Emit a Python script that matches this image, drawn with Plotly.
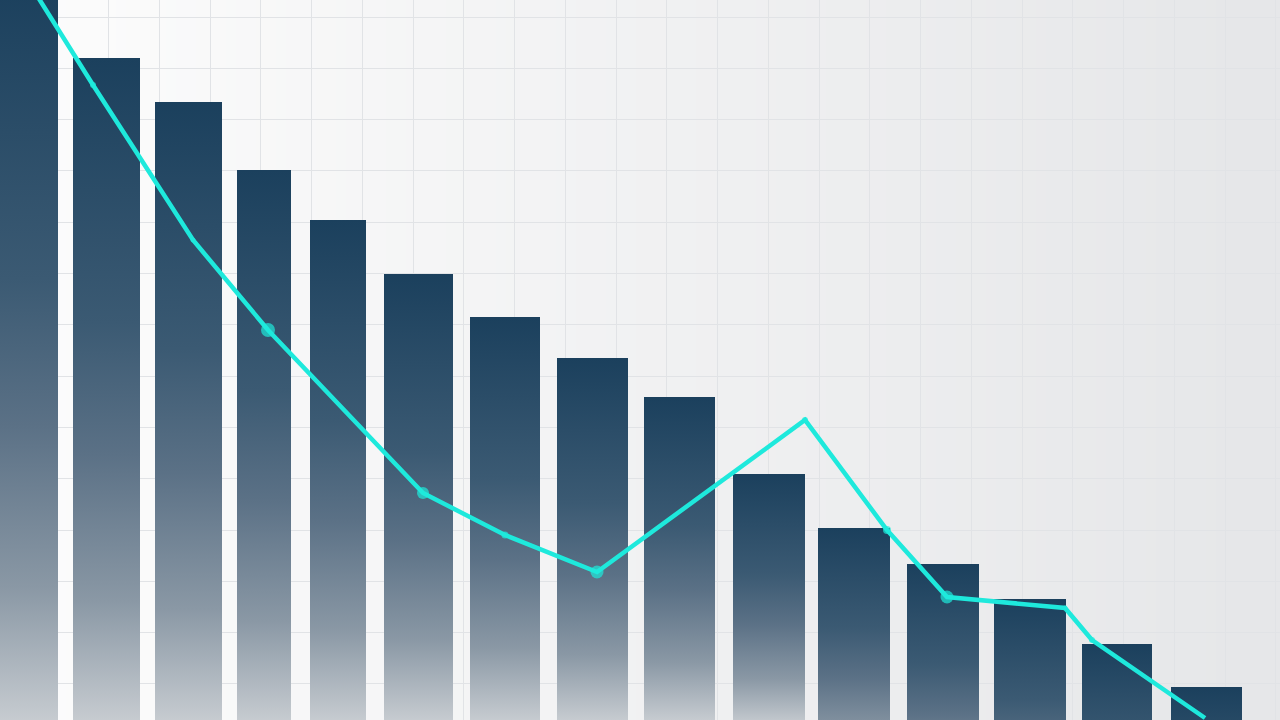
import zlib, struct, base64
import plotly.graph_objects as go

# ---- data ----
bar_centers = [24, 106.5, 188.5, 264, 338, 418.5, 505, 592.5, 679.5, 769, 854, 943, 1030, 1117, 1206.5]
bar_widths = [68, 67, 67, 54, 56, 69, 70, 71, 71, 72, 72, 72, 72, 70, 71]
bar_values = [735, 662, 618, 550, 500, 446, 403, 362, 323, 246, 192, 156, 121, 76, 33]

line_x = [36, 93, 193, 268, 423, 505, 597, 805, 887, 947, 1065, 1092, 1205]
line_y = [726, 635, 480, 390, 227, 185, 148, 300, 190, 123, 112, 80, 2]
marker_sizes = [0, 6, 5, 14, 12, 7, 13, 6, 8, 13, 5, 6, 0]


def png_gradient(w, h, c0, c1):
    rows = b""
    for _ in range(h):
        row = b"\x00"
        for i in range(w):
            t = i / (w - 1)
            row += bytes(int(c0[k] + (c1[k] - c0[k]) * t) for k in range(3))
        rows += row
    def chunk(tag, data):
        c = struct.pack(">I", len(data)) + tag + data
        return c + struct.pack(">I", zlib.crc32(tag + data) & 0xffffffff)
    png = b"\x89PNG\r\n\x1a\n" + chunk(b"IHDR", struct.pack(">IIBBBBB", w, h, 8, 2, 0, 0, 0))
    png += chunk(b"IDAT", zlib.compress(rows)) + chunk(b"IEND", b"")
    return "data:image/png;base64," + base64.b64encode(png).decode()


fig = go.Figure()

for c, w, v in zip(bar_centers, bar_widths, bar_values):
    l, r = c - w / 2, c + w / 2
    span = max(v, 250)
    fig.add_trace(go.Scatter(
        x=[l, l, r, r, l], y=[0, v, v, 0, 0], mode="lines",
        fill="toself", line=dict(width=0),
        fillgradient=dict(type="vertical", start=v - span, stop=v,
                          colorscale=[[0, "#c6cbd0"], [0.18, "#8a98a5"],
                                      [0.4, "#5b7186"], [0.6, "#3b5a73"],
                                      [1, "#1b405d"]]),
        hoverinfo="skip", showlegend=False))

fig.add_trace(go.Scatter(
    x=line_x, y=line_y, mode="lines+markers",
    line=dict(color="#1ee9dc", width=4.5),
    marker=dict(size=marker_sizes, color="#1ee9dc", line=dict(width=0)),
    showlegend=False))

fig.add_layout_image(dict(
    source=png_gradient(128, 2, (253, 253, 253), (230, 231, 233)),
    xref="paper", yref="paper", x=0, y=1, sizex=1, sizey=1,
    sizing="stretch", layer="below", xanchor="left", yanchor="top"))

fig.update_layout(
    width=1280, height=720,
    margin=dict(l=0, r=0, t=0, b=0),
    paper_bgcolor="#f2f3f4", plot_bgcolor="rgba(0,0,0,0)",
    xaxis=dict(range=[0, 1280], showticklabels=False, zeroline=False,
               showgrid=True, gridcolor="#e1e3e6", gridwidth=1.2,
               tick0=7, dtick=50.75, fixedrange=True),
    yaxis=dict(range=[0, 720], showticklabels=False, zeroline=False,
               showgrid=True, gridcolor="#e1e3e6", gridwidth=1.2,
               tick0=36.1, dtick=51.3, fixedrange=True),
)

fig.write_html("out.html", config={"displayModeBar": False},
               post_script="document.body.style.margin='0';")
